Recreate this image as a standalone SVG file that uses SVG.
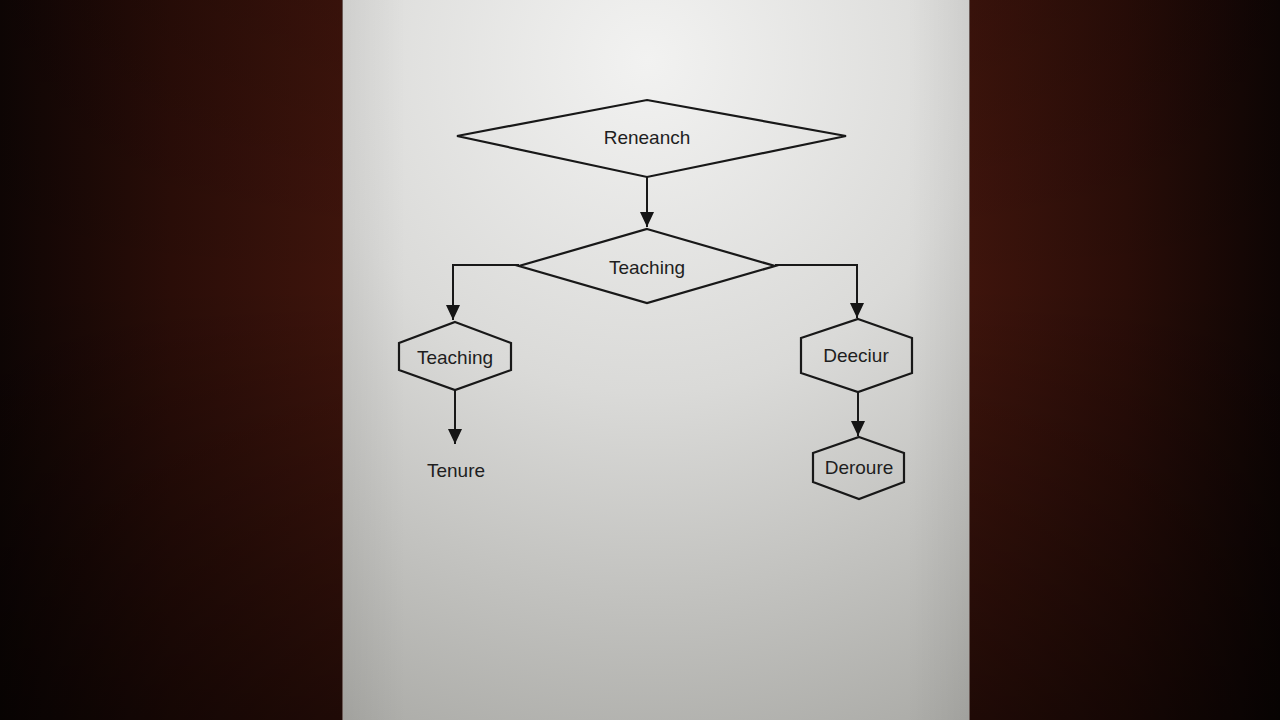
<svg xmlns="http://www.w3.org/2000/svg" width="1280" height="720" viewBox="0 0 1280 720">
  <defs>
    <linearGradient id="woodL" x1="0" y1="0" x2="1" y2="0">
      <stop offset="0" stop-color="#0e0504"/>
      <stop offset="0.5" stop-color="#2a0d08"/>
      <stop offset="1" stop-color="#3e140c"/>
    </linearGradient>
    <linearGradient id="woodR" x1="0" y1="0" x2="1" y2="0">
      <stop offset="0" stop-color="#3e140c"/>
      <stop offset="0.5" stop-color="#2a0d08"/>
      <stop offset="1" stop-color="#0e0504"/>
    </linearGradient>
    <linearGradient id="vshade" x1="0" y1="0" x2="0" y2="1">
      <stop offset="0" stop-color="#000" stop-opacity="0.1"/>
      <stop offset="0.4" stop-color="#000" stop-opacity="0"/>
      <stop offset="1" stop-color="#000" stop-opacity="0.5"/>
    </linearGradient>
    <radialGradient id="paper" cx="647" cy="60" r="740" gradientUnits="userSpaceOnUse">
      <stop offset="0" stop-color="#f2f2f1"/>
      <stop offset="0.45" stop-color="#dadad8"/>
      <stop offset="1" stop-color="#aaaaa6"/>
    </radialGradient>
    <linearGradient id="paperEdge" x1="0" y1="0" x2="1" y2="0">
      <stop offset="0" stop-color="#000" stop-opacity="0.06"/>
      <stop offset="0.1" stop-color="#000" stop-opacity="0"/>
      <stop offset="0.9" stop-color="#000" stop-opacity="0"/>
      <stop offset="1" stop-color="#000" stop-opacity="0.06"/>
    </linearGradient>
    <marker id="arr" viewBox="0 0 15 14" refX="15" refY="7" markerWidth="15" markerHeight="14" markerUnits="userSpaceOnUse" orient="auto">
      <path d="M0,0 L15,7 L0,14 Z" fill="#151515"/>
    </marker>
  </defs>
  <style>
    .shape { fill: none; stroke: #181818; stroke-width: 2.2; stroke-linejoin: miter; }
    .conn { fill: none; stroke: #181818; stroke-width: 2; }
    .lbl { font-family: "Liberation Sans", Arial, sans-serif; font-size: 19px; fill: #1e1e1e; text-anchor: middle; dominant-baseline: central; }
  </style>

  <!-- background -->
  <rect x="0" y="0" width="343" height="720" fill="url(#woodL)"/>
  <rect x="970" y="0" width="310" height="720" fill="url(#woodR)"/>
  <rect x="0" y="0" width="343" height="720" fill="url(#vshade)"/>
  <rect x="970" y="0" width="310" height="720" fill="url(#vshade)"/>
  <rect x="343" y="0" width="627" height="720" fill="url(#paper)"/>
  <rect x="343" y="0" width="627" height="720" fill="url(#paperEdge)"/>
  <line x1="342.5" y1="0" x2="342.5" y2="720" stroke="#6a5a56" stroke-width="1"/>
  <line x1="969.5" y1="0" x2="969.5" y2="720" stroke="#6a5a56" stroke-width="1"/>

  <g id="connectors">
    <path class="conn" d="M647,177 L647,227" marker-end="url(#arr)"/>
    <path class="conn" d="M519,265 L453,265 L453,320" marker-end="url(#arr)"/>
    <path class="conn" d="M775,265 L857,265 L857,318" marker-end="url(#arr)"/>
    <path class="conn" d="M455,390 L455,444" marker-end="url(#arr)"/>
    <path class="conn" d="M858,392 L858,436" marker-end="url(#arr)"/>
  </g>

  <g id="node-research">
    <polygon class="shape" points="647,100 846,136 647,177 457,136"/>
    <text class="lbl" x="647" y="137">Reneanch</text>
  </g>
  <g id="node-teaching-decision">
    <polygon class="shape" points="647,229 775,266 647,303 519,266"/>
    <text class="lbl" x="647" y="267">Teaching</text>
  </g>
  <g id="node-teaching">
    <polygon class="shape" points="455,322 511,343 511,370 455,390 399,370 399,343"/>
    <text class="lbl" x="455" y="357">Teaching</text>
  </g>
  <g id="node-tenure">
    <text class="lbl" x="456" y="470">Tenure</text>
  </g>
  <g id="node-deeciur">
    <polygon class="shape" points="858,319 912,338 912,373 858,392 801,373 801,338"/>
    <text class="lbl" x="856" y="355">Deeciur</text>
  </g>
  <g id="node-deroure">
    <polygon class="shape" points="859,437 904,453 904,482 859,499 813,482 813,453"/>
    <text class="lbl" x="859" y="467">Deroure</text>
  </g>
</svg>
